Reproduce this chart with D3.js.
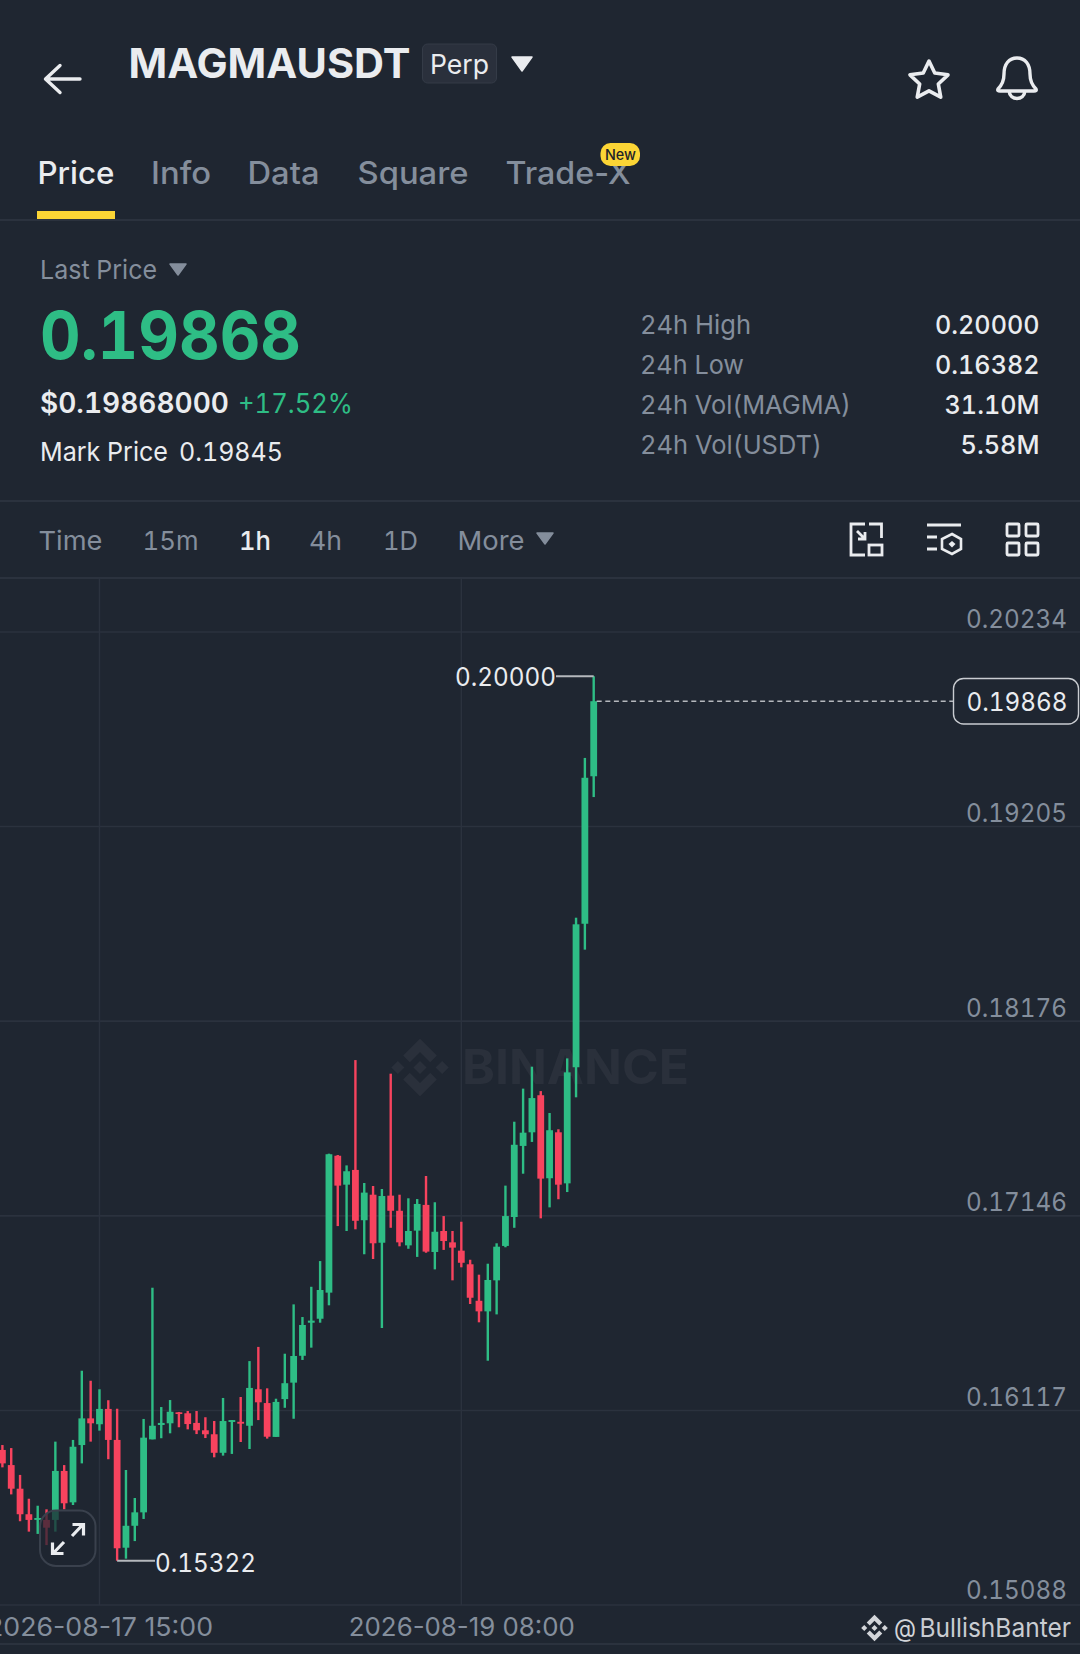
<!DOCTYPE html>
<html><head><meta charset="utf-8">
<script src="https://cdn.jsdelivr.net/npm/d3@7"></script>
<style>html,body{margin:0;padding:0;background:#1f2631}svg{display:block}text{font-family:Inter,"Noto Sans",sans-serif;font-variant-numeric:tabular-nums;font-feature-settings:"tnum" 1}text.plain{font-variant-numeric:normal;font-feature-settings:"tnum" 0}</style>
</head><body><div id="c"></div>
<script>
const opens=[.15908,.15828,.15703,.15568,.15538,.15538,.15538,.15797,.15631,.15934,.16075,.16044,.16125,.15961,.15391,.15507,.15578,.15964,.16040,.16049,.16107,.16102,.16051,.16012,.15991,.15893,.16056,.16057,.16036,.16229,.16156,.15977,.16177,.16264,.16406,.16581,.16602,.16740,.17464,.17311,.17389,.17123,.17258,.17004,.17253,.17173,.16990,.17068,.17204,.16955,.17066,.17006,.16962,.16890,.16697,.16641,.16805,.16987,.17140,.17516,.17588,.17784,.17345,.17588,.17318,.17932,.18691,.19471];
const highs=[.15934,.15918,.15776,.15650,.15613,.15594,.15952,.15828,.15961,.16327,.16274,.16229,.16171,.16126,.15802,.15654,.16072,.16766,.16135,.16172,.16109,.16114,.16114,.16081,.16061,.16183,.16066,.16188,.16378,.16453,.16234,.16179,.16417,.16678,.16611,.16771,.16907,.17475,.17468,.17413,.17970,.17320,.17304,.17288,.17898,.17258,.17239,.17235,.17357,.17218,.17145,.17066,.17115,.16914,.16835,.16893,.17001,.17306,.17644,.17819,.17935,.17806,.17690,.17604,.17979,.18723,.19568,.20000];
const lows=[.15816,.15673,.15531,.15476,.15464,.15405,.15476,.15594,.15617,.15837,.15952,.16010,.15859,.15322,.15333,.15426,.15543,.15964,.15970,.15996,.16028,.16017,.15992,.15971,.15869,.15878,.15887,.15950,.15913,.16066,.15968,.15977,.16131,.16073,.16384,.16449,.16581,.16673,.17092,.17066,.17075,.16943,.16918,.16553,.17083,.16985,.16972,.16929,.16951,.16863,.16966,.16805,.16874,.16680,.16583,.16380,.16625,.16980,.17083,.17369,.17537,.17133,.17191,.17234,.17272,.17773,.18554,.19361];
const closes=[.15837,.15703,.15568,.15538,.15548,.15497,.15797,.15626,.15925,.16075,.16049,.16125,.15961,.15388,.15507,.15578,.15973,.16036,.16051,.16110,.16098,.16045,.16012,.15991,.15893,.16061,.16066,.16047,.16236,.16160,.15978,.16162,.16261,.16405,.16569,.16592,.16754,.17472,.17306,.17382,.17120,.17269,.17001,.17251,.17173,.17006,.17066,.17209,.16957,.17062,.17013,.16978,.16898,.16713,.16641,.16807,.16983,.17145,.17522,.17586,.17769,.17343,.17599,.17311,.17905,.18688,.19463,.19868];
const priceTicks=[.20234,.19205,.18176,.17146,.16117,.15088];
const timeTickIndex=[11,52];
const timeTickLabels=["2026-08-17 15:00","2026-08-19 08:00"];
const lastPrice=.19868, highPrice=.20000, lowPrice=.15322;

const BG="#1f2631",GREEN="#2ebd85",RED="#f7435e",GRID="#2b323e",MUTED="#848e9c",LIGHT="#eaecef";
const svg=d3.select("#c").append("svg").attr("width",1080).attr("height",1654);
svg.append("rect").attr("width",1080).attr("height",1654).attr("fill",BG);
const x=d3.scaleLinear().domain([0,opens.length-1]).range([2.4,593.7]);
const y=d3.scaleLinear().domain([.15088,.20234]).range([1605,632]);

function T(px,py,s,size,fill,weight,anchor,w){
  const t=svg.append("text").attr("x",px).attr("y",py).text(s).attr("font-size",size).attr("fill",fill)
    .attr("font-weight",weight||400).attr("text-anchor",anchor||"start");
  if(w)t.attr("textLength",w).attr("lengthAdjust","spacingAndGlyphs");
  return t;
}
function tri(x0,x1,y0,y1,fill){svg.append("path").attr("d",`M${x0} ${y0}L${x1} ${y0}L${(x0+x1)/2} ${y1}Z`).attr("fill",fill).attr("stroke",fill).attr("stroke-width",1.5).attr("stroke-linejoin","round");}
function hline(py,w){svg.append("line").attr("x1",0).attr("x2",1080).attr("y1",py).attr("y2",py).attr("stroke",GRID).attr("stroke-width",w||2);}
function logo(cx,cy,s,fill){
  const P=[[[0,-14],[8.2,-5.8],[5,-2.6],[0,-7.6],[-5,-2.6],[-8.2,-5.8]],[[0,14],[8.2,5.8],[5,2.6],[0,7.6],[-5,2.6],[-8.2,5.8]],[[-14,0],[-10.8,-3.2],[-7.6,0],[-10.8,3.2]],[[14,0],[10.8,-3.2],[7.6,0],[10.8,3.2]],[[0,-3.2],[3.2,0],[0,3.2],[-3.2,0]]];
  svg.append("g").selectAll("polygon").data(P).join("polygon").attr("points",d=>d.map(p=>[cx+p[0]*s,cy+p[1]*s].join(",")).join(" ")).attr("fill",fill);
}

// header
svg.append("path").attr("d","M80 79H46M60 65.5L45.5 79L60 92.5").attr("fill","none").attr("stroke",LIGHT).attr("stroke-width",3.4).attr("stroke-linecap","round").attr("stroke-linejoin","round");
T(128.5,78,"MAGMAUSDT",41,LIGHT,700,"start",282);
svg.append("rect").attr("x",422.5).attr("y",44).attr("width",74).attr("height",39).attr("rx",5).attr("fill","#2a303c").attr("stroke","#343b47");
T(430,74,"Perp",27,LIGHT,400,"start",59);
tri(512,532,57,71,LIGHT);
svg.append("path").attr("d",d3.range(10).map(i=>{const r=i%2?9.8:20,a=-Math.PI/2+i*Math.PI/5;return (i?"L":"M")+(929+r*Math.cos(a))+" "+(81+r*Math.sin(a));}).join("")+"Z").attr("fill","none").attr("stroke",LIGHT).attr("stroke-width",3.6).attr("stroke-linejoin","round");
svg.append("path").attr("d","M998 89C1003 84 1004 80 1004 74C1004 64 1009 58 1017 58C1025 58 1030 64 1030 74C1030 80 1031 84 1036 89Q1037 91 1034 91H1000Q997 91 998 89ZM1009 91C1010 101 1024 101 1025 91").attr("fill","none").attr("stroke",LIGHT).attr("stroke-width",3.4).attr("stroke-linejoin","round");

// tabs
[["Price",37.5,77,LIGHT,500],["Info",151,60,MUTED,500],["Data",247.5,72,MUTED,500],["Square",357.5,111,MUTED,500],["Trade-X",505.5,125,MUTED,500]].forEach(d=>T(d[1],183.5,d[0],31,d[3],d[4],"start",d[2]).attr("class","plain"));
svg.append("rect").attr("x",37).attr("y",211).attr("width",78).attr("height",8).attr("fill","#fcd535");
svg.append("rect").attr("x",600.5).attr("y",143).attr("width",39.5).attr("height",23).attr("rx",10).attr("fill","#fcd535");
T(620.5,160,"New",15,"#1e2329",500,"middle",31);
hline(220,2);

// price block
T(40,278.5,"Last Price",26,MUTED,400,"start",117);
tri(170,186,264,275,MUTED);
T(40,359,"0.19868",66,GREEN,700,"start",261);
T(40,412.5,"$0.19868000",28,LIGHT,600,"start",189);
T(238,412.5,"+17.52%",27,GREEN,400,"start",115);
T(40,460.5,"Mark Price",26,LIGHT,400,"start",128);
T(179,460.5,"0.19845",26,LIGHT,400,"start",104);
[["24h High","0.20000",334,111,104.5],["24h Low","0.16382",374,104,104.5],["24h Vol(MAGMA)","31.10M",414,211,95],["24h Vol(USDT)","5.58M",454,182,79]].forEach(d=>{
  T(640,d[2],d[0],26,MUTED,400,"start",d[3]);
  T(1039.5,d[2],d[1],26,LIGHT,500,"end",d[4]);
});
hline(501,2);

// toolbar
[["Time",38.5,64,MUTED,400],["15m",142.5,56,MUTED,400],["1h",239,32,LIGHT,500],["4h",309,33,MUTED,400],["1D",383,35,MUTED,400],["More",457.5,67,MUTED,400]].forEach(d=>T(d[1],550,d[0],26,d[3],d[4],"start",d[2]));
tri(537,553,533,544,MUTED);
svg.append("path").attr("d","M865 524H851V555H865M869 524H881.5V538M857 531L865 539M865 532V539H858").attr("fill","none").attr("stroke",LIGHT).attr("stroke-width",2.8);
svg.append("rect").attr("x",869).attr("y",545).attr("width",13).attr("height",10).attr("fill","none").attr("stroke",LIGHT).attr("stroke-width",2.8);
svg.append("path").attr("d","M927 525H961M927 537H937M927 549H937").attr("fill","none").attr("stroke",LIGHT).attr("stroke-width",2.8);
svg.append("path").attr("d","M952 534L961 539V549L952 554L942 549V539Z").attr("fill","none").attr("stroke",LIGHT).attr("stroke-width",2.6);
svg.append("path").attr("d","M952 541L955.5 544L952 547.5L948.5 544Z").attr("fill",LIGHT);
[[1007,524],[1026,524],[1007,543],[1026,543]].forEach(p=>svg.append("rect").attr("x",p[0]).attr("y",p[1]).attr("width",12).attr("height",12).attr("rx",1).attr("fill","none").attr("stroke",LIGHT).attr("stroke-width",2.8));
hline(578,2);

// grid
svg.append("g").selectAll("line").data(priceTicks).join("line").attr("x1",0).attr("x2",1080).attr("y1",d=>y(d)).attr("y2",d=>y(d)).attr("stroke",GRID).attr("stroke-width",1.6);
svg.append("g").selectAll("line").data(timeTickIndex).join("line").attr("x1",d=>x(d)).attr("x2",d=>x(d)).attr("y1",578).attr("y2",1605).attr("stroke",GRID).attr("stroke-width",1.4);
hline(1644,2);

// watermark
logo(420,1067.5,2.05,"#2a303b");
T(462,1084,"BINANCE",48,"#2a303b",700,"start",227);

// candles
const candles=opens.map((o,i)=>({i,o,h:highs[i],l:lows[i],c:closes[i]}));
const g=svg.append("g").selectAll("g").data(candles).join("g").attr("fill",d=>d.c>=d.o?GREEN:RED).attr("stroke",d=>d.c>=d.o?GREEN:RED);
g.append("line").attr("x1",d=>x(d.i)).attr("x2",d=>x(d.i)).attr("y1",d=>y(d.h)).attr("y2",d=>y(d.l)).attr("stroke-width",2.4);
g.append("rect").attr("x",d=>x(d.i)-3.4).attr("width",6.8).attr("y",d=>y(Math.max(d.o,d.c))).attr("height",d=>Math.max(1.6,Math.abs(y(d.o)-y(d.c)))).attr("stroke","none");

// y axis labels
const yAxis=d3.axisLeft(y).tickValues(priceTicks).tickFormat(d3.format(".5f")).tickSize(0);
const ya=svg.append("g").attr("transform","translate(1067,0)").call(yAxis);
ya.select(".domain").remove();
ya.selectAll("text").attr("x",0).attr("dy",null).attr("y",d=>d===.15088?-7:-5).attr("fill",MUTED).attr("font-size",26).attr("font-family",'Inter,"Noto Sans",sans-serif').attr("text-anchor","end").attr("textLength",101).attr("lengthAdjust","spacingAndGlyphs");

// x axis labels
const xAxis=d3.axisBottom(x).tickValues(timeTickIndex).tickFormat((d,i)=>timeTickLabels[i]).tickSize(0);
const xa=svg.append("g").attr("transform","translate(0,1636)").call(xAxis);
xa.select(".domain").remove();
xa.selectAll("text").attr("class","plain").attr("y",0).attr("dy",null).attr("fill",MUTED).attr("font-size",26).attr("font-family",'Inter,"Noto Sans",sans-serif').attr("text-anchor","middle").attr("textLength",226).attr("lengthAdjust","spacingAndGlyphs");

// last price
svg.append("line").attr("x1",x(67)+3).attr("x2",953).attr("y1",y(lastPrice)).attr("y2",y(lastPrice)).attr("stroke","#b5b8bd").attr("stroke-width",1.6).attr("stroke-dasharray","5 3.6");
svg.append("rect").attr("x",953.5).attr("y",678.5).attr("width",125).attr("height",45.5).attr("rx",10).attr("fill",BG).attr("stroke","#c9ccd1").attr("stroke-width",1.4);
T(966.5,711,"0.19868",26,LIGHT,400,"start",101);

// high / low annotations
svg.append("path").attr("d",`M556 ${y(highPrice)}H${x(67)}`).attr("stroke","#b5b8bd").attr("stroke-width",1.8).attr("fill","none");
T(455,686,"0.20000",26,LIGHT,400,"start",101);
svg.append("path").attr("d",`M${x(13)} ${y(lowPrice)}H155`).attr("stroke","#b5b8bd").attr("stroke-width",1.8).attr("fill","none");
T(155,1572,"0.15322",26,LIGHT,400,"start",101);

// expand button
svg.append("rect").attr("x",40).attr("y",1510.5).attr("width",55.5).attr("height",55.5).attr("rx",16).attr("fill",BG).attr("fill-opacity",.72).attr("stroke","#3a414d").attr("stroke-width",2);
svg.append("path").attr("d","M72 1536L83 1524.5M72.5 1524.5H83.5V1535.5M64 1542L53 1553.5M52.5 1542.5V1553.5H63.5").attr("fill","none").attr("stroke",LIGHT).attr("stroke-width",3.2);

// footer
logo(874.5,1628,.95,"#d3d5d9");
T(894,1637,"@",25,"#d3d5d9",400,"start",22);
T(919.5,1637,"BullishBanter",26,"#c9ccd1",400,"start",151.5);
</script></body></html>
